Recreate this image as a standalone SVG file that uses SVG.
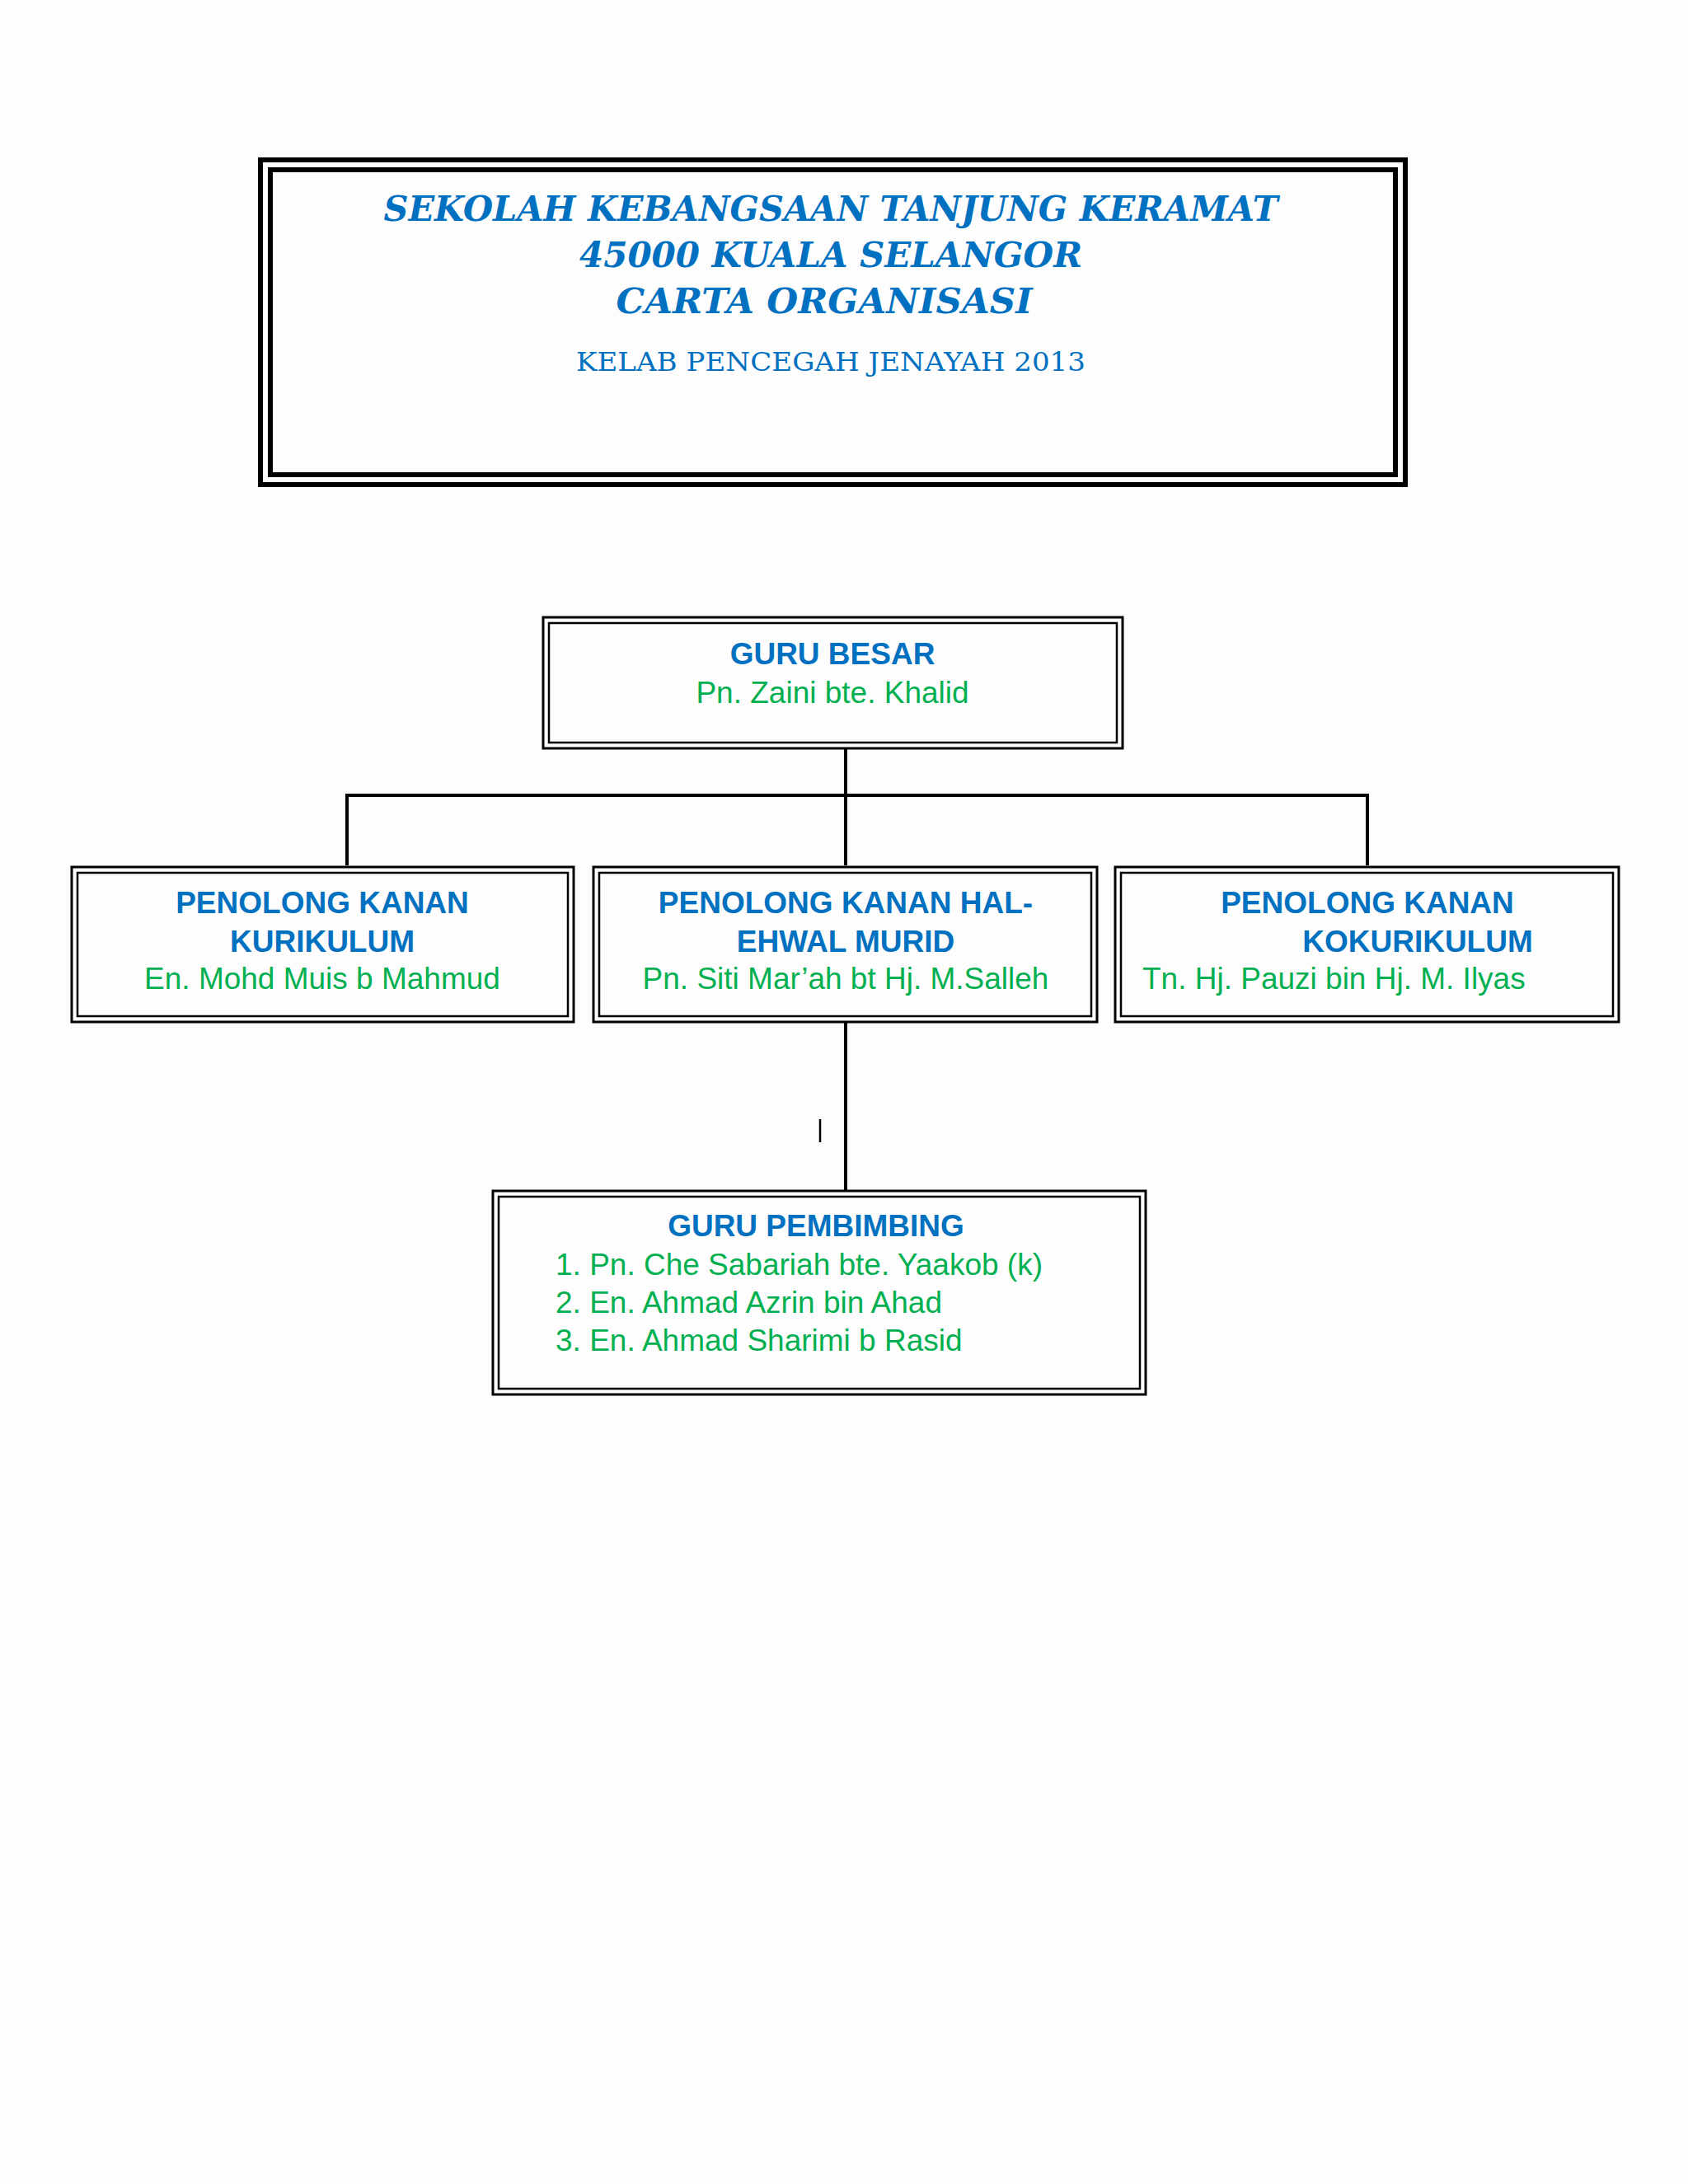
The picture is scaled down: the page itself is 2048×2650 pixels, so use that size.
<svg xmlns="http://www.w3.org/2000/svg" width="2048" height="2650" viewBox="0 0 2048 2650">
<style>
.o{fill:none;stroke:#000;stroke-width:6}
.i{fill:none;stroke:#000;stroke-width:2.5}
.t{font-family:"Liberation Sans",Arial,sans-serif;font-size:37px;font-weight:bold;fill:#0070c0}
.n{font-family:"Liberation Sans",Arial,sans-serif;font-size:37px;fill:#00b050}
.g{font-family:"DejaVu Serif",serif;font-weight:bold;font-style:italic;font-size:42px;fill:#0070c0}
.c{stroke:#000;stroke-width:4;fill:none}
</style>
<rect width="2048" height="2650" fill="#fdfdfd"/>
<g id="title">
<rect x="316" y="194" width="1389" height="394" class="o"/>
<rect x="328" y="206" width="1365" height="370" class="i" stroke-width="6" style="stroke-width:6"/>
<text class="g" x="1008" y="268" text-anchor="middle" textLength="1085" lengthAdjust="spacingAndGlyphs">SEKOLAH KEBANGSAAN TANJUNG KERAMAT</text>
<text class="g" x="1008" y="324" text-anchor="middle" textLength="610" lengthAdjust="spacingAndGlyphs">45000 KUALA SELANGOR</text>
<text class="g" x="1000" y="380" text-anchor="middle" textLength="505" lengthAdjust="spacingAndGlyphs">CARTA ORGANISASI</text>
<text x="1008" y="450" text-anchor="middle" font-family="DejaVu Serif,serif" font-size="32" fill="#0070c0" textLength="618" lengthAdjust="spacingAndGlyphs">KELAB PENCEGAH JENAYAH 2013</text>
</g>
<g id="connectors">
<path class="c" d="M1026 909V1050M421 965H1659M421 963V1050M1659 963V1050M1026 1241V1444"/>
<path d="M995 1358V1386" stroke="#000" stroke-width="2.5"/>
</g>
<g id="guru-besar">
<rect x="659" y="749" width="703" height="159" class="o" style="stroke-width:3"/>
<rect x="666" y="756" width="689" height="145" class="i"/>
<text class="t" x="1010" y="806" text-anchor="middle">GURU BESAR</text>
<text class="n" x="1010" y="853" text-anchor="middle">Pn. Zaini  bte. Khalid</text>
</g>
<g id="pk-kurikulum">
<rect x="87" y="1052" width="609" height="188" class="o" style="stroke-width:3"/>
<rect x="94" y="1059" width="595" height="174" class="i"/>
<text class="t" x="391" y="1108" text-anchor="middle">PENOLONG KANAN</text>
<text class="t" x="391" y="1155" text-anchor="middle">KURIKULUM</text>
<text class="n" x="391" y="1200" text-anchor="middle">En. Mohd Muis b  Mahmud</text>
</g>
<g id="pk-hem">
<rect x="720" y="1052" width="611" height="188" class="o" style="stroke-width:3"/>
<rect x="727" y="1059" width="597" height="174" class="i"/>
<text class="t" x="1026" y="1108" text-anchor="middle">PENOLONG KANAN HAL-</text>
<text class="t" x="1026" y="1155" text-anchor="middle">EHWAL MURID</text>
<text class="n" x="1026" y="1200" text-anchor="middle">Pn. Siti Mar’ah bt Hj. M.Salleh</text>
</g>
<g id="pk-koku">
<rect x="1353" y="1052" width="611" height="188" class="o" style="stroke-width:3"/>
<rect x="1360" y="1059" width="597" height="174" class="i"/>
<text class="t" x="1659" y="1108" text-anchor="middle">PENOLONG KANAN</text>
<text class="t" x="1720" y="1155" text-anchor="middle">KOKURIKULUM</text>
<text class="n" x="1386" y="1200">Tn. Hj. Pauzi bin Hj. M. Ilyas</text>
</g>
<g id="guru-pembimbing">
<rect x="598" y="1445" width="792" height="247" class="o" style="stroke-width:3"/>
<rect x="605" y="1452" width="778" height="233" class="i"/>
<text class="t" x="990" y="1500" text-anchor="middle">GURU PEMBIMBING</text>
<text class="n" x="674" y="1547">1. Pn. Che Sabariah bte. Yaakob (k)</text>
<text class="n" x="674" y="1593">2. En. Ahmad Azrin bin Ahad</text>
<text class="n" x="674" y="1639">3. En. Ahmad Sharimi b Rasid</text>
</g>
</svg>
